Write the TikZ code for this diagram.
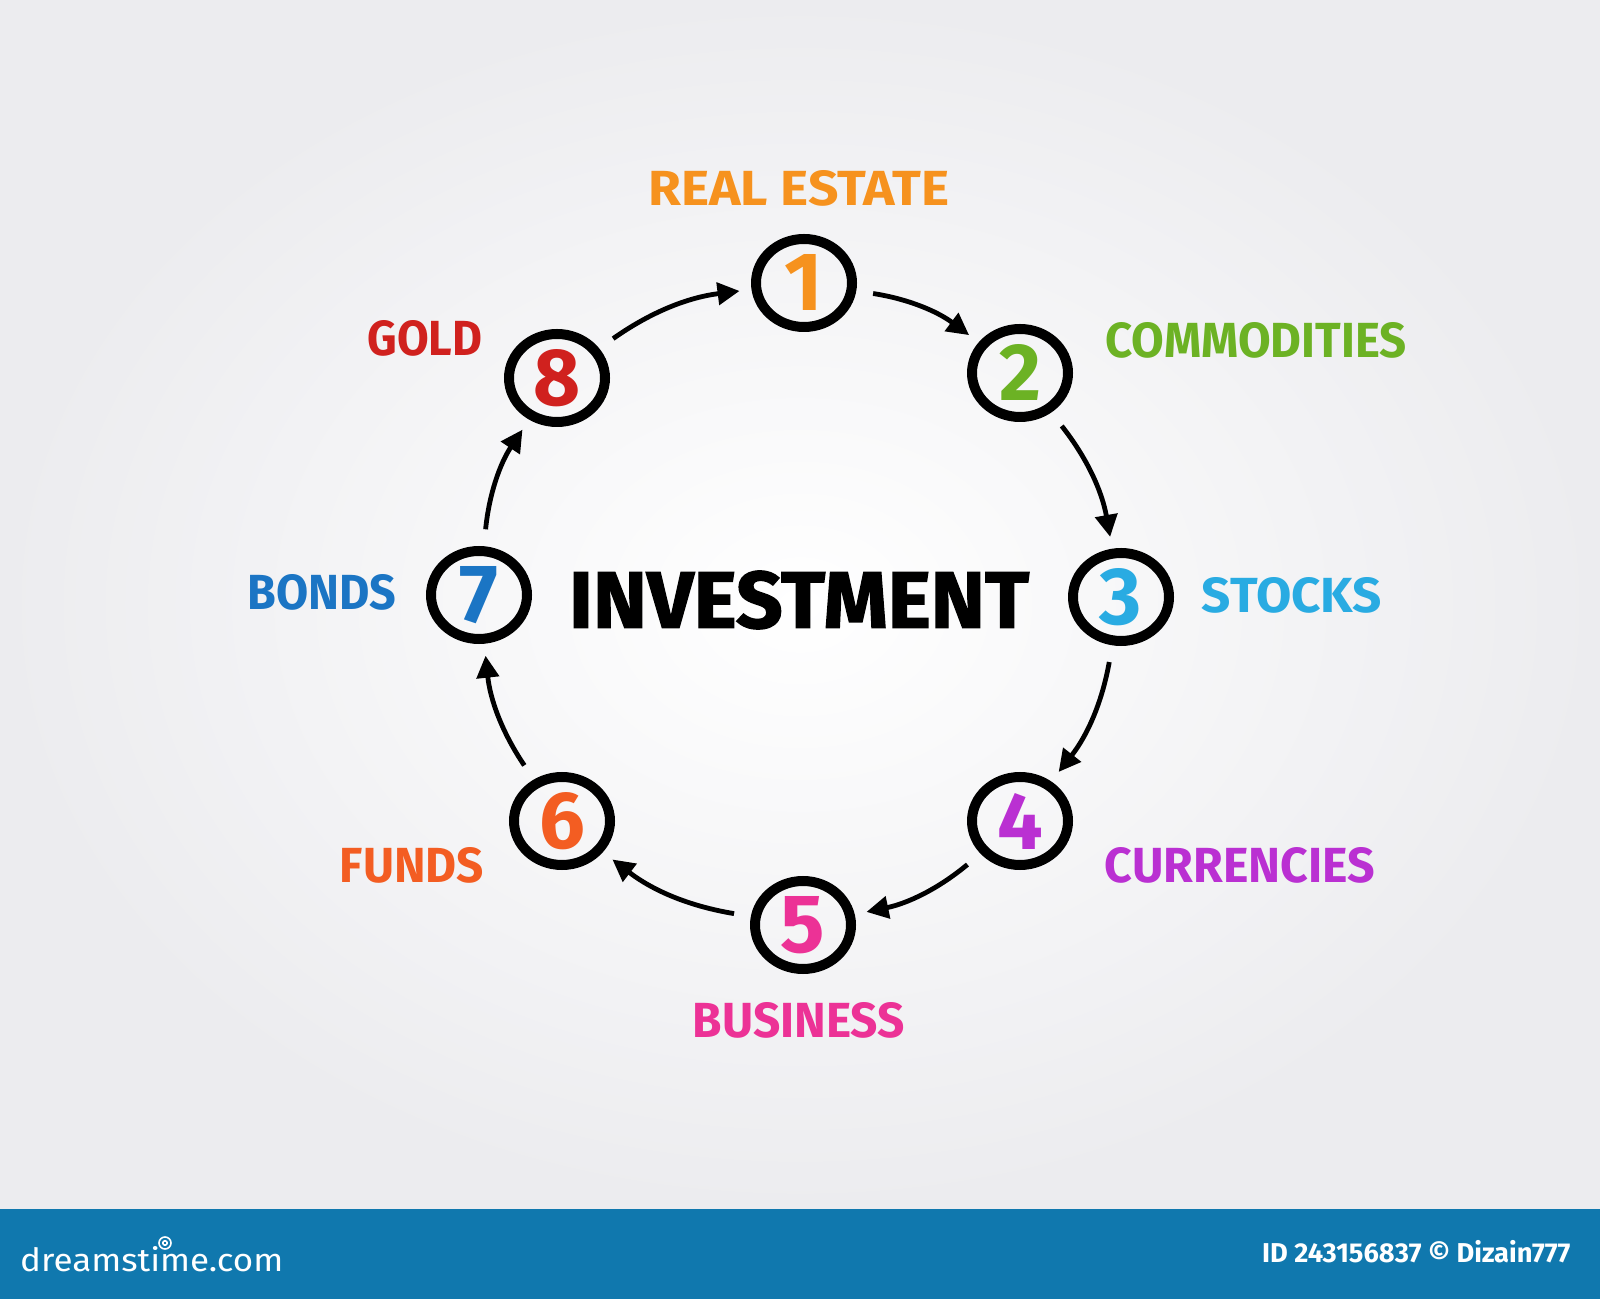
\documentclass[tikz,border=0pt]{standalone}
\usepackage{fontspec}
\setmainfont{Fira Sans}
\newfontfamily\heavyfont[BoldFeatures={FakeBold=1.6}]{Fira Sans}
\usetikzlibrary{arrows.meta,shapes.geometric}

\definecolor{realestate}{RGB}{246,146,30}
\definecolor{commodities}{RGB}{108,178,36}
\definecolor{stocks}{RGB}{41,171,226}
\definecolor{currencies}{RGB}{186,48,210}
\definecolor{business}{RGB}{236,50,150}
\definecolor{funds}{RGB}{243,93,34}
\definecolor{bonds}{RGB}{27,117,196}
\definecolor{gold}{RGB}{208,33,30}
\definecolor{barblue}{RGB}{16,120,174}
\definecolor{bggray}{RGB}{236,236,239}

\newcommand{\fitbox}[3]{\resizebox{#1pt}{#2pt}{#3}}

\begin{document}
\begin{tikzpicture}[x=1pt, y=1pt,
	ring/.style={ellipse, draw=black, line width=10pt, minimum width=96pt, minimum height=88pt, inner sep=0pt},
	flow/.style={-{Triangle[length=22pt,width=22pt]}, line width=4.8pt, shorten <=17pt, shorten >=12pt},
	tag/.style={inner sep=0pt, font=\bfseries}]
	\useasboundingbox (0,0) rectangle (1600,1299);
	\shade [inner color=white, outer color=bggray] (0,90) rectangle (1600,1299);
	\fill [barblue] (0,0) rectangle (1600,90);
	% numbered rings
	\foreach \n/\x/\y/\col in {1/804/1016/realestate, 2/1020/926/commodities, 3/1121/702/stocks, 4/1020/478/currencies, 5/803/374/business, 6/562/478/funds, 7/479/704/bonds, 8/557/921/gold}
		\node [ring, text=\col] (n\n) at (\x,\y) {\resizebox{!}{56pt}{\bfseries\n}};
	% arrows round the ring
	\foreach \a/\b in {1/2,2/3,3/4,4/5,5/6,6/7,7/8,8/1}
		\draw [flow] (n\a) to [bend left=14] (n\b);
	% labels
	\foreach \x/\y/\w/\col/\txt in {799/1111/301/realestate/REAL ESTATE, 1256/959/301/commodities/COMMODITIES, 1292/704/180/stocks/STOCKS, 1240/434/270/currencies/CURRENCIES, 799/279/212/business/BUSINESS, 412/434/144/funds/FUNDS, 322/707/149/bonds/BONDS, 425/961/115/gold/GOLD}
		\node [tag, text=\col] (lab-\col) at (\x,\y) {\fitbox{\w}{35}{\txt}};
	\node [inner sep=0pt] (invest) at (799,699) {\fitbox{460}{57}{\heavyfont\bfseries INVESTMENT}};
	% footer
	\node [inner sep=0pt, anchor=south west, text=white] (site) at (20,27) {\fitbox{263}{25}{dreamstime.com}};
	\draw [white, line width=1.6pt] (165,56) circle (6) (165,56) circle (2.2);
	\node [inner sep=0pt, anchor=south west, text=white] (imageid) at (1262,36) {\resizebox{308pt}{!}{\bfseries ID 243156837 © Dizain777}};
\end{tikzpicture}
\end{document}
